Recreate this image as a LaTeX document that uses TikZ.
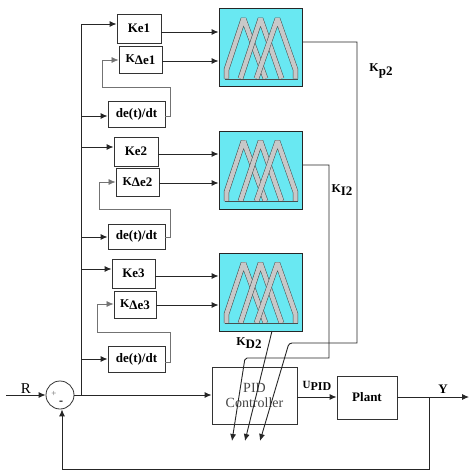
\documentclass[tikz,border=0pt]{standalone}
\usepackage{fontspec}
\setmainfont{Liberation Serif}
\usetikzlibrary{arrows.meta}
\definecolor{fzcyan}{RGB}{105,232,242}
\definecolor{mfgray}{RGB}{200,200,200}
\definecolor{mfline}{RGB}{70,80,80}
\newcommand{\smK}{{\fontsize{12}{13}\selectfont\bfseries K}}
\begin{document}
\begin{tikzpicture}[x=1pt,y=-1pt,
  arr/.style={-{Latex[length=7pt,width=6pt]}},
  wire/.style={line width=0.9pt,draw=black!85},
  loopw/.style={line width=0.7pt,draw=black!55},
  blk/.style={draw=black!80,line width=0.9pt,fill=white,inner sep=0pt,
    font=\fontsize{13}{15}\selectfont\bfseries},
  fz/.style={draw=black!85,line width=0.9pt,fill=fzcyan,minimum width=83pt,minimum height=78pt,inner sep=0pt},
  mf/.style={draw=mfline,line width=0.5pt,double=mfgray,double distance=4.4pt,line join=bevel},
  lbl/.style={inner sep=0pt,font=\fontsize{13}{15}\selectfont\bfseries}
]
\useasboundingbox (0,0) rectangle (474,474);
\fill[white] (0,0) rectangle (474,474);

% gain boxes
\node[blk,minimum width=44pt,minimum height=29pt] (Ke1) at (139,28.5) {Ke1};
\node[blk,minimum width=43pt,minimum height=27pt] (KDe1) at (140.5,59.5) {\smK\raisebox{-1.5pt}{Δe1}};
\node[blk,minimum width=57pt,minimum height=26pt] (dd1) at (136.5,114) {de(t)/dt};
\node[blk,minimum width=44pt,minimum height=29pt] (Ke2) at (136,151.5) {Ke2};
\node[blk,minimum width=43pt,minimum height=28pt] (KDe2) at (137.5,182) {\smK\raisebox{-1.5pt}{Δe2}};
\node[blk,minimum width=57pt,minimum height=25pt] (dd2) at (136.5,236.5) {de(t)/dt};
\node[blk,minimum width=43pt,minimum height=29pt] (Ke3) at (133.5,273.5) {Ke3};
\node[blk,minimum width=42pt,minimum height=27pt] (KDe3) at (135,304.5) {\smK\raisebox{-1.5pt}{Δe3}};
\node[blk,minimum width=57pt,minimum height=26pt] (dd3) at (136.5,359) {de(t)/dt};

% fuzzy blocks
\node[fz] (fz1) at (260.5,47.5) {};
\node[fz] (fz2) at (260.5,170) {};
\node[fz] (fz3) at (260.5,292) {};
\foreach \f in {fz1,fz2,fz3}{
  \begin{scope}[shift={(\f.center)}]
    \draw[mf] (-34,31) -- (-34,22) -- (-17,-29) -- (5,31);
    \draw[mf] (-20,31) -- (0,-29) -- (21,31);
    \draw[mf] (-4,31) -- (17,-29) -- (35,22) -- (35,31);
    \draw[mfline,line width=0.8pt] (-36,31.5) -- (37,31.5);
  \end{scope}
}

% PID and plant
\node[draw=black!80,line width=0.9pt,minimum width=85pt,minimum height=57pt,inner sep=0pt,align=center,
  font=\fontsize{14}{16}\selectfont\rmfamily,text=black!72] (pid) at (254.5,395.5) {PID\\[-1pt]Controller};
\node[blk,minimum width=60pt,minimum height=43pt] (plant) at (367,397.5) {Plant};

% summing junction
\node[draw=black!80,line width=0.8pt,circle,minimum size=28pt,inner sep=0pt] (sum) at (60,395) {};
\node[inner sep=0pt,font=\fontsize{9}{10}\selectfont,text=black!60] (plus) at (54,394) {+};
\node[inner sep=0pt,font=\fontsize{12}{12}\selectfont\bfseries] (minus) at (61,403) {-};
\node[inner sep=0pt,font=\fontsize{15}{17}\selectfont] (Rl) at (26,389) {R};
\coordinate (rin) at (6,395);
\draw[wire,arr] (rin) -- (sum.west);

% bus
\coordinate (bus0) at (81,395);
\coordinate (bustop) at (81,24);
\draw[wire] (sum.east) -- (bus0);
\draw[wire,arr] (bus0) -- (pid.west |- bus0);
\draw[wire] (bus0) -- (bustop);
\draw[wire,arr] (bustop) -- (Ke1.west |- bustop);
\coordinate (b2) at (81,116); \draw[wire,arr] (b2) -- (dd1.west |- b2);
\coordinate (b3) at (81,147); \draw[wire,arr] (b3) -- (Ke2.west |- b3);
\coordinate (b4) at (81,237); \draw[wire,arr] (b4) -- (dd2.west |- b4);
\coordinate (b5) at (81,269); \draw[wire,arr] (b5) -- (Ke3.west |- b5);
\coordinate (b6) at (81,359); \draw[wire,arr] (b6) -- (dd3.west |- b6);

% derivative loops
\draw[loopw,arr] (dd1.east |- 0,116) -- (170,116) -- (170,87) -- (102,87) -- (102,60) -- (KDe1.west |- 0,60);
\draw[loopw,arr] (dd2.east |- 0,237) -- (170,237) -- (170,209) -- (99,209) -- (99,182) -- (KDe2.west |- 0,182);
\draw[loopw,arr] (dd3.east |- 0,362) -- (170,362) -- (170,332) -- (97,332) -- (97,304) -- (KDe3.west |- 0,304);

% inputs to fuzzy blocks
\draw[wire,arr] (Ke1.east |- 0,32) -- (fz1.west |- 0,32);
\draw[wire,arr] (KDe1.east |- 0,61) -- (fz1.west |- 0,61);
\draw[wire,arr] (Ke2.east |- 0,154) -- (fz2.west |- 0,154);
\draw[wire,arr] (KDe2.east |- 0,183) -- (fz2.west |- 0,183);
\draw[wire,arr] (Ke3.east |- 0,276) -- (fz3.west |- 0,276);
\draw[wire,arr] (KDe3.east |- 0,305) -- (fz3.west |- 0,305);

% gain outputs to PID
\coordinate (kpend) at (260,441);
\coordinate (kiend) at (232,441);
\coordinate (kdend) at (245,441);
\draw[wire,arr] (fz1.east |- 0,42) -- (357,42) -- (357,343) [rounded corners=3pt] -- (289,343) -- (kpend);
\draw[wire,arr] (fz2.east |- 0,165) -- (329,165) -- (329,358) [rounded corners=2pt] -- (245,358) -- (kiend);
\draw[wire,arr] (272,331) -- (kdend);

\node[lbl] (kp) at (381,71) {\smK\raisebox{-3.5pt}{p2}};
\node[lbl] (ki) at (342,190) {\smK\raisebox{-3.5pt}{I2}};
\node[lbl] (kd) at (249,343) {\smK\raisebox{-3.5pt}{D2}};

% PID to plant, output
\draw[wire,arr] (pid.east |- 0,397) -- (plant.west |- 0,397);
\node[lbl,font=\fontsize{12}{14}\selectfont\bfseries] (upid) at (317,386) {{\fontsize{11}{12}\selectfont\bfseries U}\raisebox{-2.5pt}{PID}};
\coordinate (yend) at (469,397);
\coordinate (fb1) at (429,397);
\draw[wire,arr] (plant.east |- 0,397) -- (yend);
\node[lbl] (Yl) at (443,389) {Y};
\draw[wire,arr] (fb1) -- (429,469) -- (62,469) -- (sum.south -| 62,0);
\end{tikzpicture}
\end{document}
